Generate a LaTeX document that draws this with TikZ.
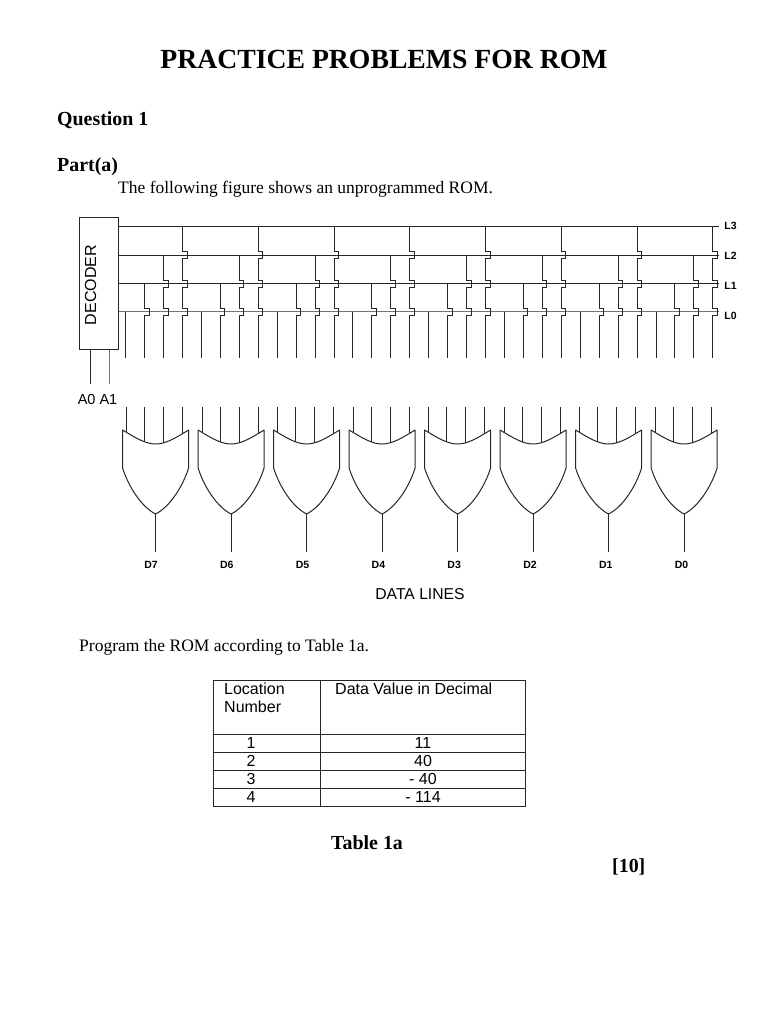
\documentclass[tikz,border=0pt]{standalone}
\usepackage{fontspec}
\setmainfont{Liberation Serif}
\setsansfont{Liberation Sans}
\tikzset{
wire/.style={black!85, line width=1pt},
faint/.style={black!55, line width=1pt},
gate/.style={black!85, line width=1pt, line join=round},
head/.style={anchor=west, inner sep=0pt, font=\fontsize{19.9}{22}\selectfont\bfseries},
body/.style={anchor=west, inner sep=0pt, font=\fontsize{17.5}{20}\selectfont},
tag/.style={inner sep=0pt, font=\fontsize{10.5}{12}\selectfont\sffamily\bfseries},
cell/.style={inner sep=0pt, font=\fontsize{16}{18}\selectfont\sffamily}
}
\begin{document}
\begin{tikzpicture}[x=1pt, y=-1pt]
\useasboundingbox (0,0) rectangle (768,1024);

\node (title) at (384,59.5) [inner sep=0pt, font=\fontsize{27.7}{32}\selectfont\bfseries] {PRACTICE PROBLEMS FOR ROM};
\node (q1) at (57,120) [head] {Question 1};
\node (pa) at (57,166.5) [head] {Part(a)};
\node (intro) at (118,189.5) [body] {The following figure shows an unprogrammed ROM.};

% decoder
\node (dec) at (98.75,283.5) [draw, wire, minimum width=38.5pt, minimum height=132pt, inner sep=0pt] {};
\node (dectext) at (90.5,285) [rotate=90, inner sep=0pt, font=\fontsize{16}{18}\selectfont\sffamily] {DECODER};
\coordinate (a0) at (90.5,384);
\coordinate (a1) at (109,384);
\draw[wire] (dec.south -| a0) -- (a0);
\draw[faint] (dec.south -| a1) -- (a1);
\node (addr) at (97.5,400) [inner sep=0pt, font=\fontsize{14.5}{16}\selectfont\sffamily] {A0 A1};

% word lines
\node (l3) at (730.5,226) [tag] {L3};
\node (l2) at (730.5,255.5) [tag] {L2};
\node (l1) at (730.5,285.5) [tag] {L1};
\node (l0) at (730.5,315.5) [tag] {L0};
\coordinate (s3) at (119,227);
\coordinate (s2) at (119,255);
\coordinate (s1) at (119,283.5);
\coordinate (s0) at (119,311.5);
\draw[wire, shorten >=5pt] (s3) -- (s3 -| l3.west);
\draw[wire, shorten >=5pt] (s2) -- (s2 -| l2.west);
\draw[wire, shorten >=5pt] (s1) -- (s1 -| l1.west);
\draw[faint, shorten >=5pt] (s0) -- (s0 -| l0.west);

% bit lines
\foreach \grp in {0,...,7} {
\pgfmathsetmacro\xv{125.7+18.94*4*\grp}
\coordinate (t0\grp) at (\xv,311.5);
\coordinate (b0\grp) at (\xv,358);
\draw[wire] (t0\grp) -- (b0\grp);
}
\foreach \lvl/\ys/\hops in {1/283.5/{311.5}, 2/255/{283.5,311.5}, 3/227/{255,283.5,311.5}}
\foreach \grp in {0,...,7} {
\pgfmathsetmacro\xv{125.7+18.94*(4*\grp+\lvl)}
\coordinate (t\lvl\grp) at (\xv,\ys);
\coordinate (b\lvl\grp) at (\xv,358);
\draw[wire] (t\lvl\grp) foreach \yh in \hops {-- (\xv,\yh-3.5) -- ++(4.5,0) -- ++(0,7) -- ++(-4.5,0)} -- (b\lvl\grp);
}

% OR gates
\foreach \grp/\bit in {0/7,1/6,2/5,3/4,4/3,5/2,6/1,7/0} {
\pgfmathsetmacro\xg{155.6+75.5*\grp}
\pgfmathsetmacro\xd{151+75.8*\grp}
\coordinate (in\bit) at (\xg,444);
\coordinate (out\bit) at (\xg,514);
\coordinate (end\bit) at (\xg,552);
\draw[gate] (\xg-33,430) .. controls (\xg-20,438) and (\xg-10,444) .. (in\bit)
.. controls (\xg+10,444) and (\xg+20,438) .. (\xg+33,430) -- (\xg+33,468)
.. controls (\xg+27,487) and (\xg+14,507) .. (out\bit)
.. controls (\xg-14,507) and (\xg-27,487) .. (\xg-33,468) -- cycle;
\draw[wire] (out\bit) -- (end\bit);
\foreach \dx/\ye in {-29/431.5, -11/441.5, 8/442.5, 27/432.5} {
\draw[wire] (\xg+\dx,407) -- (\xg+\dx,\ye);
}
\node (d\bit) at (\xd,564.5) [tag] {D\bit};
}
\node (datalines) at (420,594) [inner sep=0pt, font=\fontsize{15.7}{18}\selectfont\sffamily] {DATA LINES};

\node (prog) at (79,647.5) [body] {Program the ROM according to Table 1a.};

% table
\coordinate (tl) at (213,680);
\coordinate (tm) at (320.5,680);
\coordinate (br) at (525,806.5);
\draw[wire] (tl) rectangle (br);
\draw[wire] (tm) -- (tm |- br);
\foreach \yr in {734,752,770,788} {
\draw[wire] (213,\yr) -- (525,\yr);
}
\node (loc) at (224,698) [cell, anchor=west, align=left] {Location\\Number};
\node (val) at (335,688.5) [cell, anchor=west] {Data Value in Decimal};
\foreach \row/\yr/\dat in {1/743/11, 2/761/40, 3/779/- 40, 4/797/- 114} {
\node (loc\row) at (251,\yr) [cell] {\row};
\node (val\row) at (423,\yr) [cell] {\dat};
}

\node (cap) at (331,842.5) [head] {Table 1a};
\node (marks) at (612,866.5) [head] {[10]};
\end{tikzpicture}
\end{document}
